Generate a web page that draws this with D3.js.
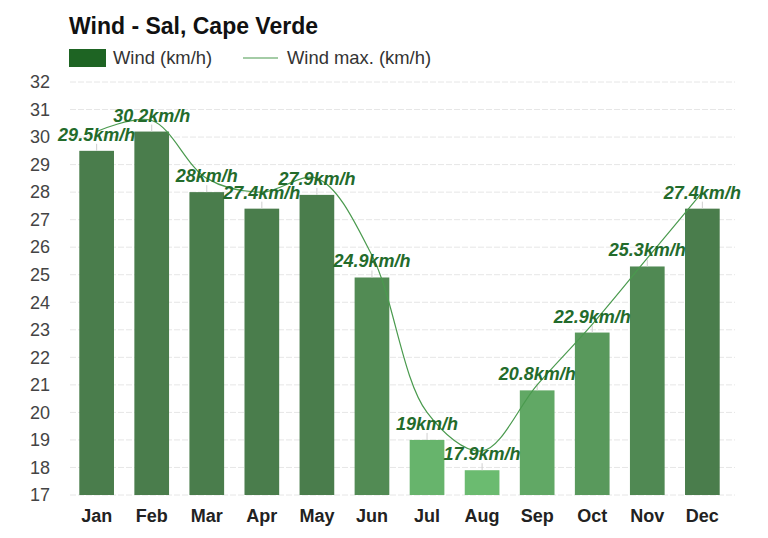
<!DOCTYPE html>
<html>
<head>
<meta charset="utf-8">
<script src="https://cdn.jsdelivr.net/npm/d3@7"></script>
<style>
  body { margin: 0; background: #fff; }
  svg { font-family: "Liberation Sans", Arial, sans-serif; }
</style>
</head>
<body>
<svg id="chart" width="768" height="538"></svg>
<script>
// Chart data
var months = ['Jan', 'Feb', 'Mar', 'Apr', 'May', 'Jun', 'Jul', 'Aug', 'Sep', 'Oct', 'Nov', 'Dec'];
var wind = [29.5, 30.2, 28, 27.4, 27.9, 24.9, 19, 17.9, 20.8, 22.9, 25.3, 27.4];
var windMax = [30.2, 30.6, 28.5, 28.0, 28.5, 25.7, 20.0, 18.6, 21.0, 23.2, 25.6, 28.0];
var yTicks = [17, 18, 19, 20, 21, 22, 23, 24, 25, 26, 27, 28, 29, 30, 31, 32];

var svg = d3.select('#chart');

var x = d3.scaleBand().domain(months).range([69, 730]).paddingInner(0.37).paddingOuter(0.187);
var y = d3.scaleLinear().domain([17, 32]).range([495, 82]);

// bar colour goes from light to dark green with the value
var barColor = d3.scaleLinear().domain([18, 27]).range(['#6bbb70', '#4a7d4c']).clamp(true);

// Title
svg.append('text')
   .attr('x', 69).attr('y', 34)
   .attr('font-size', 23).attr('font-weight', 'bold').attr('fill', '#111')
   .text('Wind - Sal, Cape Verde');

// Legend
svg.append('rect').attr('x', 69).attr('y', 49).attr('width', 37).attr('height', 18).attr('fill', '#1e6423');
svg.append('text').attr('x', 113).attr('y', 64).attr('font-size', 18.4).attr('fill', '#333').text('Wind (km/h)');
svg.append('line').attr('x1', 243).attr('x2', 278).attr('y1', 58).attr('y2', 58)
   .attr('stroke', '#4a9a4e').attr('stroke-width', 1.2);
svg.append('text').attr('x', 287).attr('y', 64).attr('font-size', 18.4).attr('fill', '#333').text('Wind max. (km/h)');

// Gridlines
svg.append('g').selectAll('line')
   .data(yTicks)
   .join('line')
   .attr('x1', 70).attr('x2', 735)
   .attr('y1', function(d) { return y(d); })
   .attr('y2', function(d) { return y(d); })
   .attr('stroke', '#e6e6e6')
   .attr('stroke-dasharray', '6,2');

// Y axis labels
var yAxis = svg.append('g').attr('transform', 'translate(50,0)')
   .call(d3.axisLeft(y).tickValues(yTicks).tickSize(0).tickPadding(0).tickFormat(d3.format('d')));
yAxis.select('.domain').remove();
yAxis.selectAll('text').attr('font-size', 18).attr('fill', '#444').attr('font-family', '"Liberation Sans", Arial, sans-serif');

// X axis labels
var xAxis = svg.append('g')
   .call(d3.axisBottom(x).tickSize(0).tickPadding(0));
xAxis.select('.domain').remove();
xAxis.selectAll('text').attr('font-size', 18).attr('font-weight', 'bold').attr('fill', '#222')
     .attr('y', 522).attr('dy', 0).attr('font-family', '"Liberation Sans", Arial, sans-serif');

// Bars
svg.append('g').selectAll('rect')
   .data(wind)
   .join('rect')
   .attr('x', function(d, i) { return x(months[i]); })
   .attr('y', function(d) { return y(d); })
   .attr('width', x.bandwidth())
   .attr('height', function(d) { return y(17) - y(d); })
   .attr('fill', function(d) { return barColor(d); });

// Small grey ticks on top of the bars
svg.append('g').selectAll('line')
   .data(wind)
   .join('line')
   .attr('x1', function(d, i) { return x(months[i]) + x.bandwidth() / 2; })
   .attr('x2', function(d, i) { return x(months[i]) + x.bandwidth() / 2; })
   .attr('y1', function(d) { return y(d); })
   .attr('y2', function(d) { return y(d) - 7; })
   .attr('stroke', '#cfcfcf').attr('stroke-width', 1);

// Wind max line
var line = d3.line()
   .x(function(d, i) { return x(months[i]) + x.bandwidth() / 2; })
   .y(function(d) { return y(d); })
   .curve(d3.curveCatmullRom.alpha(0.5));

svg.append('path')
   .datum(windMax)
   .attr('d', line)
   .attr('fill', 'none')
   .attr('stroke', '#4a9a4e')
   .attr('stroke-width', 1.2);

// Value labels
svg.append('g').selectAll('text')
   .data(wind)
   .join('text')
   .attr('x', function(d, i) { return x(months[i]) + x.bandwidth() / 2; })
   .attr('y', function(d) { return y(d) - 10; })
   .attr('text-anchor', 'middle')
   .attr('font-size', 18).attr('font-weight', 'bold').attr('font-style', 'italic')
   .attr('fill', '#236b2b')
   .text(function(d) { return d + 'km/h'; });
</script>
</body>
</html>
